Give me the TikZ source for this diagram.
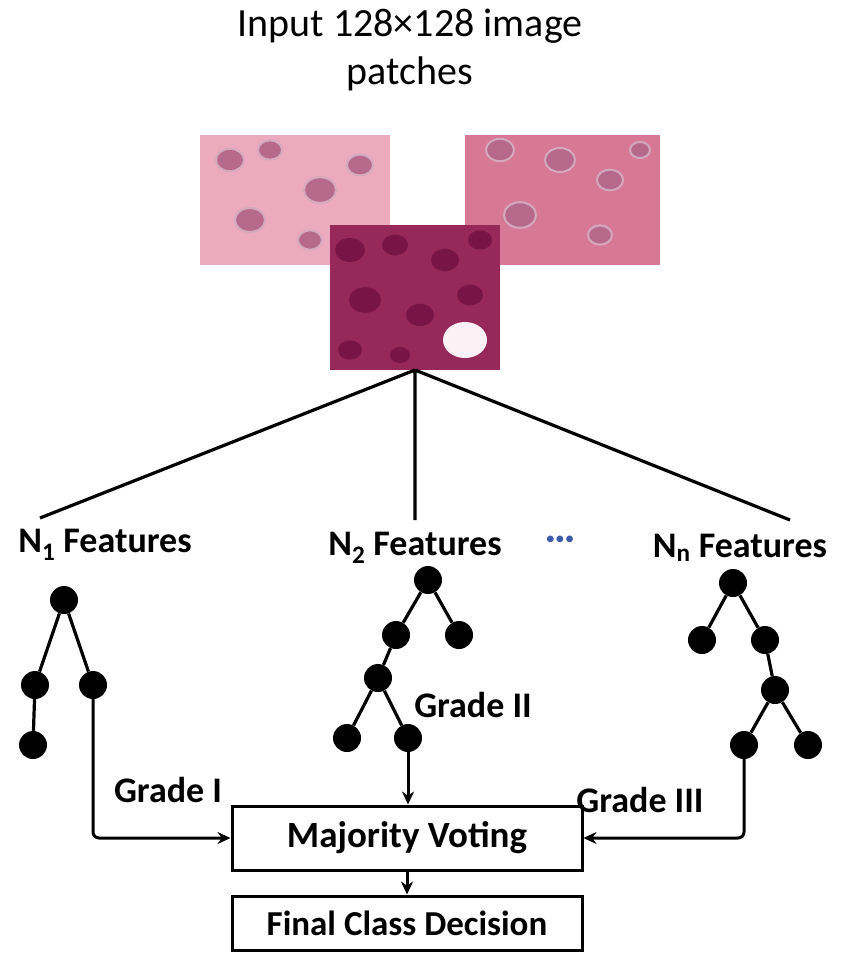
\documentclass[tikz,border=0pt]{standalone}
\usepackage{fontspec}
\setmainfont{Carlito}
\usetikzlibrary{arrows.meta}
\definecolor{pinkA}{RGB}{214,120,150}
\definecolor{pinkB}{RGB}{235,170,190}
\definecolor{pinkC}{RGB}{150,40,90}
\definecolor{cellD}{RGB}{120,20,70}
\definecolor{dotblue}{RGB}{60,90,170}
\begin{document}
\begin{tikzpicture}[x=1pt,y=-1pt,
  lbl/.style={font=\bfseries\fontsize{36}{40}\selectfont,inner sep=0pt},
  dot/.style={circle,fill=black,minimum width=22pt,minimum height=28pt,inner sep=0pt},
  edge/.style={line width=3.2pt},
  conn/.style={line width=3pt,-{Stealth[length=13pt,width=12pt]}},
  boxx/.style={draw,line width=3pt,minimum width=350pt,inner sep=0pt}]
\useasboundingbox (0,0) rectangle (850,972);
% title
\node[lbl,font=\fontsize{40}{44}\selectfont] (title) at (410,52) {\begin{tabular}{c}Input 128×128 image\\[4pt] patches\end{tabular}};
% patches
\node[fill=pinkB,minimum width=190pt,minimum height=130pt,inner sep=0pt] (pl) at (295,200) {};
\node[fill=pinkA,minimum width=195pt,minimum height=130pt,inner sep=0pt] (pr) at (562,200) {};
\foreach \x/\y/\r in {230/160/14,270/150/12,320/190/16,360/165/13,250/220/15,310/240/12,500/150/14,560/160/15,610/180/13,520/215/16,600/235/12,640/150/10}
  \fill[pinkC!70,draw=pinkC!40!white,line width=2pt] (\x,\y) ellipse (\r pt and 0.8*\r pt);
\node[fill=pinkC,minimum width=170pt,minimum height=145pt,inner sep=0pt] (pc) at (415,297) {};
\foreach \x/\y/\r in {350/250/15,395/245/13,445/260/14,480/240/12,365/300/16,420/315/14,470/295/13,350/350/12,400/355/10}
  \fill[cellD] (\x,\y) ellipse (\r pt and 0.8*\r pt);
\fill[white!85!pinkB] (465,340) ellipse (22pt and 18pt);
\coordinate (hub) at (415,370);
% feature labels
\node[lbl] (f1) at (105,545) {N\textsubscript{1} Features};
\node[lbl] (f2) at (415,548) {N\textsubscript{2} Features};
\node[lbl,text=dotblue] (dots) at (560,543) {···};
\node[lbl] (fn) at (740,548) {N\textsubscript{n} Features};
\coordinate (e1) at (40,518);
\coordinate (e2) at (415,520);
\coordinate (e3) at (790,520);
\draw[edge] (hub) -- (e1) (hub) -- (e2) (hub) -- (e3);
% boxes
\node[boxx,minimum height=64pt] (mv) at (407,838) {\bfseries\fontsize{37}{40}\selectfont Majority Voting};
\node[boxx,minimum height=54pt] (fc) at (407,923) {\bfseries\fontsize{35}{40}\selectfont Final Class Decision};
\draw[conn] (mv) -- (fc);
% tree 1
\node[dot] (a0) at (64,600) {};
\node[dot] (a1) at (35,685) {};
\node[dot] (a2) at (93,685) {};
\node[dot] (a3) at (33,745) {};
\draw[edge] (a0)--(a1) (a0)--(a2) (a1)--(a3);
\draw[conn,rounded corners=6pt] (a2) |- (mv.west);
\node[lbl] (g1) at (168,790) {Grade I};
% tree 2
\node[dot] (b0) at (428,580) {};
\node[dot] (b1) at (396,635) {};
\node[dot] (b2) at (459,635) {};
\node[dot] (b3) at (378,678) {};
\node[dot] (b4) at (347,738) {};
\node[dot] (b5) at (408,738) {};
\draw[edge] (b0)--(b1) (b0)--(b2) (b1)--(b3) (b3)--(b4) (b3)--(b5);
\draw[conn] (b5) -- (mv.north -| b5);
\node[lbl] (g2) at (473,705) {Grade II};
% tree 3
\node[dot] (c0) at (733,583) {};
\node[dot] (c1) at (702,640) {};
\node[dot] (c2) at (765,640) {};
\node[dot] (c3) at (775,690) {};
\node[dot] (c4) at (744,745) {};
\node[dot] (c5) at (808,745) {};
\draw[edge] (c0)--(c1) (c0)--(c2) (c2)--(c3) (c3)--(c4) (c3)--(c5);
\draw[conn,rounded corners=6pt] (c4) |- (mv.east);
\node[lbl] (g3) at (640,800) {Grade III};
\end{tikzpicture}
\end{document}
